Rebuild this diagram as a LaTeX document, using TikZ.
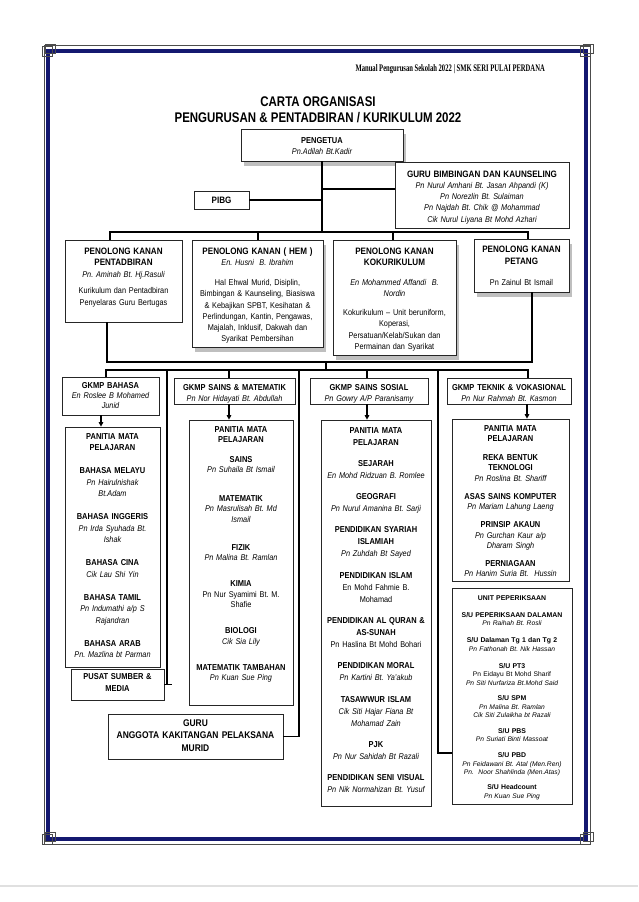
\documentclass[tikz,border=0pt]{standalone}
\usepackage{fontspec}
\setmainfont{Liberation Sans}
\newfontfamily\nar[FakeStretch=0.87,Ligatures=TeX]{Liberation Sans}
\newfontfamily\wid[Ligatures=TeX]{Liberation Sans}
\newfontfamily\ttlf[FakeStretch=0.82]{Liberation Sans}
\newfontfamily\hdrf[FakeStretch=0.66]{Liberation Serif}
\usetikzlibrary{arrows.meta,shadows}
\definecolor{frameblue}{RGB}{20,24,112}
\frenchspacing
\newcommand\HdA[1]{{\nar\bfseries\fontsize{9.3}{11}\selectfont #1}}
\newcommand\HdB[1]{{\nar\bfseries\fontsize{8.6}{11}\selectfont #1}}
\newcommand\NmI[1]{{\nar\itshape #1}}
\newcommand\RgI[1]{{\nar #1}}
\newcommand\HdU[1]{{\wid\bfseries\fontsize{6.9}{8}\selectfont #1}}
\newcommand\NmU[1]{{\wid\itshape\fontsize{6.7}{8}\selectfont #1}}
\newcommand\RgU[1]{{\wid\fontsize{6.7}{8}\selectfont #1}}
\tikzset{
  box/.style={draw=black!85, line width=0.7pt, fill=white, inner sep=0pt},
  shad/.style={drop shadow={shadow xshift=3pt,shadow yshift=-5pt,fill=black!25,opacity=1}},
  txt/.style={align=center, text width=190pt, inner sep=0pt, anchor=north, font=\nar\fontsize{8.4}{#1}\selectfont},
  utxt/.style={align=center, text width=190pt, inner sep=0pt, anchor=north, font=\wid\fontsize{6.7}{#1}\selectfont},
  conn/.style={line width=1.3pt, black},
  arr/.style={line width=1.1pt, black, -{Triangle[length=4.5pt,width=4.5pt]}}
}
\begin{document}
\begin{tikzpicture}[x=1pt,y=-1pt]
\useasboundingbox (0,0) rectangle (638,902);
\fill[white] (0,0) rectangle (638,902);
% frame
\draw[black!70, line width=0.6pt] (44,45) rectangle (590,844);
\draw[frameblue, line width=4pt] (48,51) rectangle (586,839);
\foreach \cx/\cy in {48/51,586/51,48/839,586/839}{
  \draw[black!70, line width=0.6pt] (\cx-6,\cy-5) rectangle (\cx+4,\cy+5);
  \draw[black!70, line width=0.6pt] (\cx-3,\cy-7) rectangle (\cx+7,\cy+2);
}
\draw[black!12, line width=2.5pt] (0,886) -- (638,886);

% header and title
\node[anchor=east, inner sep=0pt] (hdr) at (545,69) {\hdrf\bfseries\fontsize{10}{12}\selectfont Manual Pengurusan Sekolah 2022 | SMK SERI PULAI PERDANA};
\node[align=center, inner sep=0pt, font=\ttlf\bfseries\fontsize{14}{16}\selectfont] (title) at (318,110) {CARTA ORGANISASI\\ PENGURUSAN \& PENTADBIRAN / KURIKULUM 2022};

% boxes
\node[box,shad,minimum width=162pt,minimum height=32pt] (pengetua) at (322,145) {};
\node[box,minimum width=174pt,minimum height=66pt] (guruBK) at (482,195) {};
\node[box,minimum width=55pt,minimum height=18pt] (pibg) at (221.5,200) {};
\node[box,minimum width=117pt,minimum height=82pt] (pkA) at (123.5,281) {};
\node[box,shad,minimum width=131pt,minimum height=107pt] (pkH) at (257.5,293.5) {};
\node[box,shad,minimum width=123pt,minimum height=115pt] (pkK) at (394.5,297.5) {};
\node[box,shad,minimum width=95pt,minimum height=53pt] (pkP) at (521.5,265.5) {};
\node[box,minimum width=97pt,minimum height=38pt] (gkB) at (110.5,396) {};
\node[box,minimum width=121pt,minimum height=26pt] (gkS) at (234.5,391) {};
\node[box,minimum width=118pt,minimum height=26pt] (gkSS) at (369,391) {};
\node[box,minimum width=124pt,minimum height=26pt] (gkT) at (509,391) {};
\node[box,minimum width=95pt,minimum height=240pt] (panB) at (112.5,547) {};
\node[box,minimum width=104pt,minimum height=285pt] (panS) at (241,562.5) {};
\node[box,minimum width=110pt,minimum height=386pt] (panSS) at (376,613) {};
\node[box,minimum width=117pt,minimum height=162pt] (panT) at (510.5,500) {};
\node[box,minimum width=120pt,minimum height=216pt] (unit) at (512,696) {};
\node[box,minimum width=93pt,minimum height=31pt] (pusat) at (117.5,684.5) {};
\node[box,minimum width=175pt,minimum height=45pt] (guruA) at (195.5,736.5) {};

% connectors
\coordinate (j0) at (322,232);
\coordinate (jg) at (322,189);
\coordinate (bL) at (110,232);
\coordinate (bH) at (258,232);
\coordinate (bK) at (393,232);
\coordinate (bR) at (528,232);
\draw[conn] (pengetua.south) -- (j0);
\draw[conn] (guruBK.west |- jg) -- (jg);
\draw[conn] (pibg.east) -- (pibg.east -| j0);
\draw[conn] (pkA.north -| bL) -- (bL) -- (bR) -- (pkP.north -| bR);
\draw[conn] (bH) -- (pkH.north -| bH);
\draw[conn] (bK) -- (pkK.north -| bK);
\coordinate (mL) at (107,362);
\coordinate (mR) at (532,362);
\coordinate (mC) at (326,362);
\coordinate (nC) at (326,370);
\draw[conn] (pkA.south -| mL) -- (mL) -- (mR) -- (pkP.south -| mR);
\draw[conn] (mC) -- (nC);
\coordinate (nL) at (106,370);
\coordinate (nR) at (528,370);
\draw[conn] (gkB.north -| nL) -- (nL) -- (nR) -- (gkT.north -| nR);
\coordinate (dS) at (229,370);
\coordinate (dSS) at (367,370);
\draw[conn] (dS) -- (gkS.north -| dS);
\draw[conn] (dSS) -- (gkSS.north -| dSS);
\coordinate (v1) at (167,370);
\coordinate (v1x) at (172,370);
\draw[conn] (v1) -- (v1 |- pusat.east);
\draw[conn] (pusat.east) -- (pusat.east -| v1x);
\coordinate (v2) at (299,370);
\draw[conn] (v2) -- (v2 |- guruA.east) -- (guruA.east);
\coordinate (v3) at (438,370);
\coordinate (v3e) at (438,753);
\draw[conn] (v3) -- (v3e) -- (v3e -| unit.west);
\coordinate (a1) at (101,0);
\coordinate (a2) at (229,0);
\coordinate (a3) at (367,0);
\coordinate (a4) at (527,0);
\draw[arr] (gkB.south -| a1) -- (panB.north -| a1);
\draw[arr] (gkS.south -| a2) -- (panS.north -| a2);
\draw[arr] (gkSS.south -| a3) -- (panSS.north -| a3);
\draw[arr] (gkT.south -| a4) -- (panT.north -| a4);

% texts
\node[txt=11.7] (tPeng) at (322,136.9) {\HdB{PENGETUA}\\ \NmI{Pn.Adilah Bt.Kadir}};
\node[txt=11.2] (tGBK) at (482,170.6) {\HdA{GURU BIMBINGAN DAN KAUNSELING}\\ \NmI{Pn Nurul Amhani Bt. Jasan Ahpandi (K)}\\ \NmI{Pn Norezlin Bt. Sulaiman}\\ \NmI{Pn Najdah Bt. Chik @ Mohammad}\\ \NmI{Cik Nurul Liyana Bt Mohd Azhari}};
\node[txt=11] (tPibg) at (221.5,196.6) {\HdA{PIBG}};
\node[txt=11.5] (tA) at (123.5,247.4) {\HdA{PENOLONG KANAN}\\ \HdA{PENTADBIRAN}\\ \NmI{Pn. Aminah Bt. Hj.Rasuli}\\[5pt] \RgI{Kurikulum dan Pentadbiran}\\ \RgI{Penyelaras Guru Bertugas}};
\node[txt=11.2] (tH) at (257.5,247.4) {\HdA{PENOLONG KANAN ( HEM )}\\ \NmI{En. Husni \ B. Ibrahim}\\[9pt] \RgI{Hal Ehwal Murid, Disiplin,}\\ \RgI{Bimbingan \& Kaunseling, Biasiswa}\\ \RgI{\& Kebajikan SPBT, Kesihatan \&}\\ \RgI{Perlindungan, Kantin, Pengawas,}\\ \RgI{Majalah, Inklusif, Dakwah dan}\\ \RgI{Syarikat Pembersihan}};
\node[txt=11.5] (tK) at (394.5,247.4) {\HdA{PENOLONG KANAN}\\ \HdA{KOKURIKULUM}\\[8pt] \NmI{En Mohammed Affandi \ B.}\\ \NmI{Nordin}\\[7pt] \RgI{Kokurikulum – Unit beruniform,}\\ \RgI{Koperasi,}\\ \RgI{Persatuan/Kelab/Sukan dan}\\ \RgI{Permainan dan Syarikat}};
\node[txt=12.5] (tP) at (521.5,245.7) {\HdA{PENOLONG KANAN}\\ \HdA{PETANG}\\[8pt] \RgI{Pn Zainul Bt Ismail}};

\node[txt=10] (tgB) at (110.5,381.9) {\HdB{GKMP BAHASA}\\ \NmI{En Roslee B Mohamed}\\ \NmI{Junid}};
\node[txt=11] (tgS) at (234.5,383.9) {\HdB{GKMP SAINS \& MATEMATIK}\\ \NmI{Pn Nor Hidayati Bt. Abdullah}};
\node[txt=11] (tgSS) at (369,383.9) {\HdB{GKMP SAINS SOSIAL}\\ \NmI{Pn Gowry A/P Paranisamy}};
\node[txt=11] (tgT) at (509,383.9) {\HdB{GKMP TEKNIK \& VOKASIONAL}\\ \NmI{Pn Nur Rahmah Bt. Kasmon}};

\node[txt=11.5] (tpB) at (112.5,432.9) {\HdB{PANITIA MATA}\\ \HdB{PELAJARAN}\\[11.5pt]
 \HdB{BAHASA MELAYU}\\ \NmI{Pn Hairulnishak}\\ \NmI{Bt.Adam}\\[11.5pt]
 \HdB{BAHASA INGGERIS}\\ \NmI{Pn Irda Syuhada Bt.}\\ \NmI{Ishak}\\[11.5pt]
 \HdB{BAHASA CINA}\\ \NmI{Cik Lau Shi Yin}\\[11.5pt]
 \HdB{BAHASA TAMIL}\\ \NmI{Pn Indumathi a/p S}\\ \NmI{Rajandran}\\[11.5pt]
 \HdB{BAHASA ARAB}\\ \NmI{Pn. Mazlina bt Parman}};
\node[txt=10.5] (tpS) at (241,425.9) {\HdB{PANITIA MATA}\\ \HdB{PELAJARAN}\\[9pt]
 \HdB{SAINS}\\ \NmI{Pn Suhaila Bt Ismail}\\[18pt]
 \HdB{MATEMATIK}\\ \NmI{Pn Masrulisah Bt. Md}\\ \NmI{Ismail}\\[17.5pt]
 \HdB{FIZIK}\\ \NmI{Pn Malina Bt. Ramlan}\\[15.5pt]
 \HdB{KIMIA}\\ \RgI{Pn Nur Syamimi Bt. M.}\\ \RgI{Shafie}\\[15.5pt]
 \HdB{BIOLOGI}\\ \NmI{Cik Sia Lily}\\[15.5pt]
 \HdB{MATEMATIK TAMBAHAN}\\ \NmI{Pn Kuan Sue Ping}};
\node[txt=12] (tpSS) at (376,426.9) {\HdB{PANITIA MATA}\\ \HdB{PELAJARAN}\\[9.3pt]
 \HdB{SEJARAH}\\ \NmI{En Mohd Ridzuan B. Romlee}\\[9.3pt]
 \HdB{GEOGRAFI}\\ \NmI{Pn Nurul Amanina Bt. Sarji}\\[9.3pt]
 \HdB{PENDIDIKAN SYARIAH}\\ \HdB{ISLAMIAH}\\ \NmI{Pn Zuhdah Bt Sayed}\\[9.3pt]
 \HdB{PENDIDIKAN ISLAM}\\ \RgI{En Mohd Fahmie B.}\\ \RgI{Mohamad}\\[9.3pt]
 \HdB{PENDIDIKAN AL QURAN \&}\\ \HdB{AS-SUNAH}\\ \RgI{Pn Haslina Bt Mohd Bohari}\\[9.3pt]
 \HdB{PENDIDIKAN MORAL}\\ \NmI{Pn Kartini Bt. Ya'akub}\\[9.3pt]
 \HdB{TASAWWUR ISLAM}\\ \NmI{Cik Siti Hajar Fiana Bt}\\ \NmI{Mohamad Zain}\\[9.3pt]
 \HdB{PJK}\\ \NmI{Pn Nur Sahidah Bt Razali}\\[9.3pt]
 \HdB{PENDIDIKAN SENI VISUAL}\\ \NmI{Pn Nik Normahizan Bt. Yusuf}};
\node[txt=10.4] (tpT) at (510.5,424.9) {\HdB{PANITIA MATA}\\ \HdB{PELAJARAN}\\[8.6pt]
 \HdB{REKA BENTUK}\\ \HdB{TEKNOLOGI}\\ \NmI{Pn Roslina Bt. Shariff}\\[7.6pt]
 \HdB{ASAS SAINS KOMPUTER}\\ \NmI{Pn Mariam Lahung Laeng}\\[7.6pt]
 \HdB{PRINSIP AKAUN}\\ \NmI{Pn Gurchan Kaur a/p}\\ \NmI{Dharam Singh}\\[7.6pt]
 \HdB{PERNIAGAAN}\\ \NmI{Pn Hanim Suria Bt. \ Hussin}};
\node[utxt=8.5] (tU) at (512,595.5) {\HdU{UNIT PEPERIKSAAN}\\[8pt]
 \HdU{S/U PEPERIKSAAN DALAMAN}\\ \NmU{Pn Raihah Bt. Rosli}\\[8.5pt]
 \HdU{S/U Dalaman Tg 1 dan Tg 2}\\ \NmU{Pn Fathonah Bt. Nik Hassan}\\[8.5pt]
 \HdU{S/U PT3}\\ \RgU{Pn Eidayu Bt Mohd Sharif}\\ \NmU{Pn Siti Nurfariza Bt.Mohd Said}\\[7pt]
 \HdU{S/U SPM}\\ \NmU{Pn Malina Bt. Ramlan}\\ \NmU{Cik Siti Zulaikha bt Razali}\\[7pt]
 \HdU{S/U PBS}\\ \NmU{Pn Suriati Binti Massoat}\\[7.5pt]
 \HdU{S/U PBD}\\ \NmU{Pn Feidawani Bt. Atal (Men.Ren)}\\ \NmU{Pn. \ Noor Shahlinda (Men.Atas)}\\[6.5pt]
 \HdU{S/U Headcount}\\ \NmU{Pn Kuan Sue Ping}};
\node[txt=11.5] (tPus) at (117.5,673.6) {\HdB{PUSAT SUMBER \&}\\ \HdB{MEDIA}};
\node[txt=12.5, font=\nar\bfseries\fontsize{9.7}{12.5}\selectfont] (tGA) at (195.5,719.5) {GURU\\ ANGGOTA KAKITANGAN PELAKSANA\\ MURID};
\end{tikzpicture}
\end{document}
